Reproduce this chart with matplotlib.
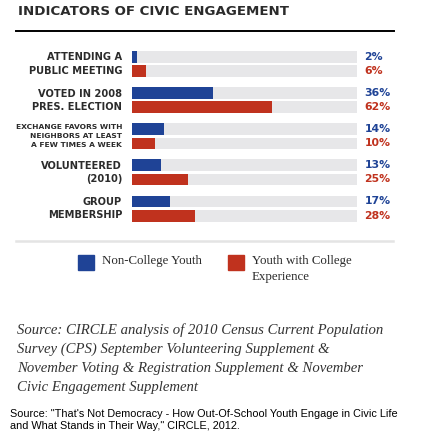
import matplotlib

matplotlib.use("Agg")
import matplotlib.pyplot as plt
from matplotlib.lines import Line2D
from matplotlib.patches import Rectangle

# ---------- data ----------
CATEGORIES = [
    "ATTENDING A\nPUBLIC MEETING",
    "VOTED IN 2008\nPRES. ELECTION",
    "EXCHANGE FAVORS WITH\nNEIGHBORS AT LEAST\nA FEW TIMES A WEEK",
    "VOLUNTEERED\n(2010)",
    "GROUP\nMEMBERSHIP",
]
NON_COLLEGE = [2, 36, 14, 13, 17]
COLLEGE = [6, 62, 10, 25, 28]
SERIES_NAMES = ["Non-College Youth", "Youth with College\nExperience"]

TITLE = "INDICATORS OF CIVIC ENGAGEMENT"
SOURCE_NOTE = ("Source: CIRCLE analysis of 2010 Census Current Population\n"
               "Survey (CPS) September Volunteering Supplement &\n"
               "November Voting & Registration Supplement & November\n"
               "Civic Engagement Supplement")
SOURCE_REF = ("Source: \"That's Not Democracy - How Out-Of-School Youth Engage in Civic Life\n"
              "and What Stands in Their Way,\" CIRCLE, 2012.")

BLUE = "#1f4396"
RED = "#c0321e"
TRACK = "#e7e7e9"
DARK = "#2b2b2b"

W, H = 425, 446


def fx(px):
    return px / W


def fy(py):
    return 1 - py / H


fig = plt.figure(figsize=(W / 100, H / 100), dpi=100)
fig.patch.set_facecolor("white")

# title + rule
fig.text(fx(18), fy(11.5), TITLE, fontsize=9.6, fontweight="bold",
         color=DARK, ha="left", va="center", family="DejaVu Sans")
fig.add_artist(Line2D([fx(16), fx(394)], [fy(31), fy(31)], color="black", lw=1.4))
fig.add_artist(Line2D([fx(16), fx(393)], [fy(241), fy(241)], color="#e4e4e4", lw=1.8))

# ---------- bars ----------
top, bottom = 45, 228
ax = fig.add_axes([fx(132), fy(bottom), fx(357) - fx(132), (bottom - top) / H])
ax.set_xlim(0, 100)
ax.set_ylim(bottom - top, 0)
ax.axis("off")

pitch, gap, bh = 36.1, 14.2, 11.8
for i, (cat, a, b) in enumerate(zip(CATEGORIES, NON_COLLEGE, COLLEGE)):
    yb = 12 + pitch * i
    yr = yb + gap
    ax.barh([yb, yr], [100, 100], height=bh, color=TRACK)
    ax.barh(yb, a, height=bh, color=BLUE)
    ax.barh(yr, b, height=bh, color=RED)
    ax.text(103.3, yb, f"{a}%", color=BLUE, fontsize=7.8, fontweight="bold",
            ha="left", va="center", clip_on=False)
    ax.text(103.3, yr, f"{b}%", color=RED, fontsize=7.8, fontweight="bold",
            ha="left", va="center", clip_on=False)
    small = cat.count("\n") > 1
    ax.text(-4.4, (yb + yr) / 2, cat, ha="right", va="center",
            fontsize=5.4 if small else 7.1, fontweight="bold", color=DARK,
            linespacing=1.6 if small else 1.4, multialignment="right",
            clip_on=False)

# ---------- legend ----------
for (x0, name, col) in [(78, SERIES_NAMES[0], BLUE), (228, SERIES_NAMES[1], RED)]:
    fig.add_artist(Rectangle((fx(x0), fy(270)), fx(15.5), 15 / H, color=col,
                             transform=fig.transFigure))
    fig.text(fx(x0 + 24), fy(255), name, fontsize=9.3, family="Liberation Serif",
             color=DARK, ha="left", va="top", linespacing=1.4)

# ---------- sources ----------
fig.text(fx(17), fy(323), SOURCE_NOTE, fontsize=10.6, style="italic",
         family="Liberation Serif", color="#333333", ha="left", va="top",
         linespacing=1.6)
fig.text(fx(10), fy(409), SOURCE_REF, fontsize=7.85, family="Liberation Sans",
         color="black", ha="left", va="top", linespacing=1.2)

fig.savefig("out.png", dpi=100)
plt.close(fig)
